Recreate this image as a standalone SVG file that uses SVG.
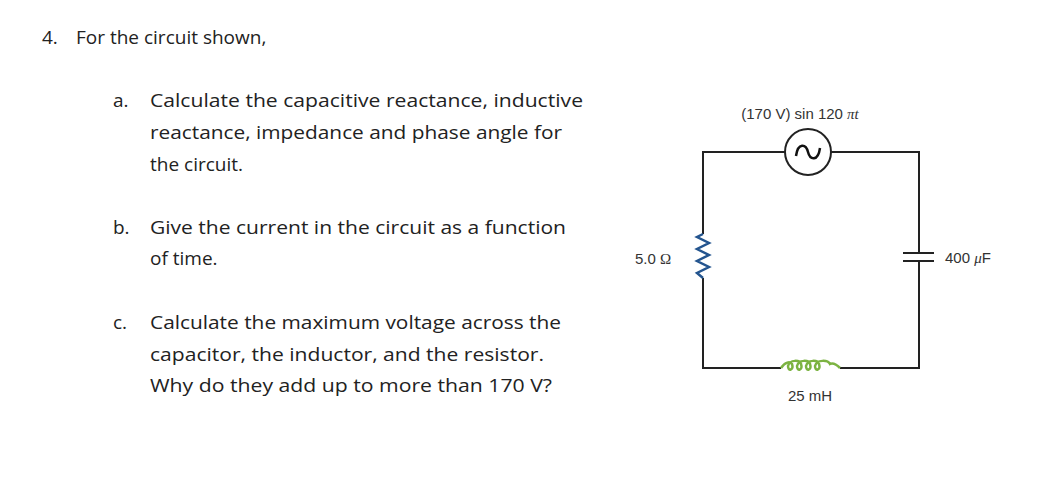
<svg xmlns="http://www.w3.org/2000/svg" width="1051" height="498" viewBox="0 0 1051 498">
<style>
.q{font-family:"Open Sans","Liberation Sans",sans-serif;font-size:19px;fill:#222}
.l{font-family:"Liberation Sans",sans-serif;font-size:15px;fill:#333}
.w{fill:none;stroke:#222;stroke-width:2}
</style>
<rect width="1051" height="498" fill="#fff"/>
<g id="text">
<text class="q" x="42" y="44">4.</text>
<text class="q" x="76" y="44">For the circuit shown,</text>
<text class="q" x="113" y="107">a.</text>
<text class="q" x="150" y="107" textLength="433" lengthAdjust="spacingAndGlyphs">Calculate the capacitive reactance, inductive</text>
<text class="q" x="150" y="139" textLength="412" lengthAdjust="spacingAndGlyphs">reactance, impedance and phase angle for</text>
<text class="q" x="150" y="171">the circuit.</text>
<text class="q" x="113" y="234">b.</text>
<text class="q" x="150" y="234" textLength="416" lengthAdjust="spacingAndGlyphs">Give the current in the circuit as a function</text>
<text class="q" x="150" y="265">of time.</text>
<text class="q" x="113" y="329">c.</text>
<text class="q" x="150" y="329" textLength="411" lengthAdjust="spacingAndGlyphs">Calculate the maximum voltage across the</text>
<text class="q" x="150" y="361" textLength="394" lengthAdjust="spacingAndGlyphs">capacitor, the inductor, and the resistor.</text>
<text class="q" x="150" y="392" textLength="402" lengthAdjust="spacingAndGlyphs">Why do they add up to more than 170 V?</text>
</g>
<g id="connectors">
<polyline class="w" points="785,152 703,152 703,234"/>
<polyline class="w" points="703,278 703,368 781,368"/>
<polyline class="w" points="831,152 919,152 919,253"/>
<polyline class="w" points="919,261 919,368 840,368"/>
</g>
<g id="source">
<circle cx="808" cy="152" r="23" fill="#fff" stroke="#222" stroke-width="2"/>
<path d="M796,156 C798,142 806,144 808,152 C810,160 818,162 820,148" fill="none" stroke="#111" stroke-width="2.5"/>
<text class="l" x="800" y="119" text-anchor="middle">(170 V) sin 120 <tspan font-family="Liberation Serif" font-style="italic">πt</tspan></text>
</g>
<g id="resistor">
<polyline points="703,234 697,237 709,243 697,249 709,255 697,261 709,267 697,273 703,278" fill="none" stroke="#24558f" stroke-width="2.5"/>
<text class="l" x="635" y="264">5.0 <tspan font-family="Liberation Serif">Ω</tspan></text>
</g>
<g id="capacitor">
<line x1="903" y1="253" x2="934" y2="253" stroke="#222" stroke-width="2"/>
<line x1="903" y1="261" x2="934" y2="261" stroke="#222" stroke-width="2"/>
<text class="l" x="945" y="263">400 <tspan font-family="Liberation Serif" font-style="italic">μ</tspan>F</text>
</g>
<g id="inductor">
<path d="M781,368 C785,362 790,361 792,364 C794,370 788,372 788,366 C790,359 800,360 801,364 C803,370 797,372 797,366 C799,359 809,360 810,364 C812,370 806,372 806,366 C808,359 818,360 819,364 C821,370 815,372 815,366 C817,359 828,360 830,364 C834,362 838,366 840,368" fill="none" stroke="#7cb342" stroke-width="2.5"/>
<text class="l" x="810" y="401" text-anchor="middle">25 mH</text>
</g>
</svg>
